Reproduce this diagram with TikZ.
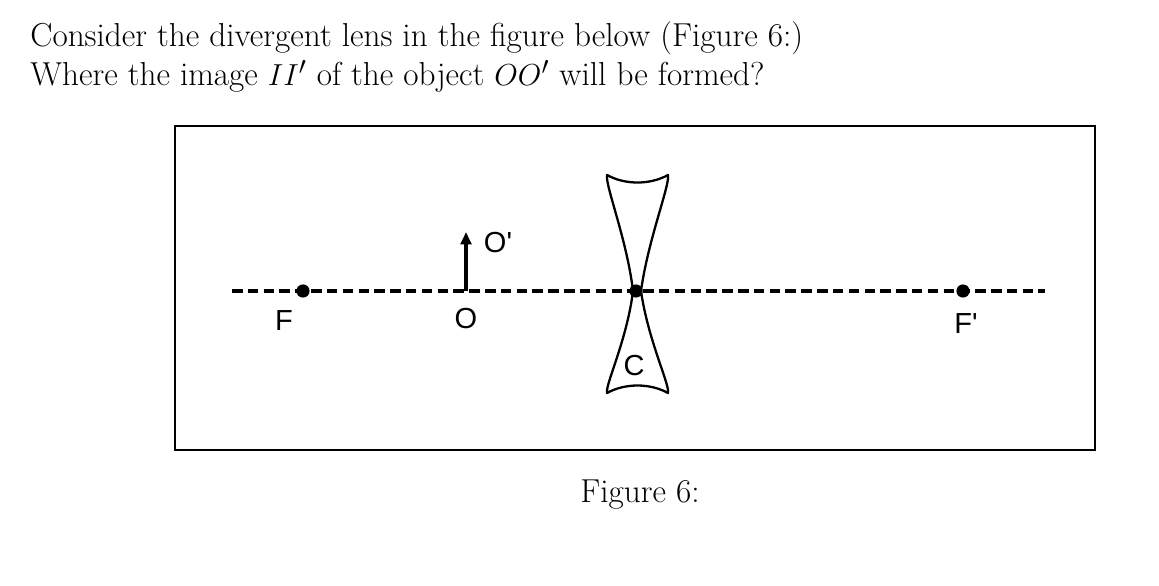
\documentclass[tikz,border=0pt]{standalone}
\usepackage{fontspec}
\setsansfont{Liberation Sans}
\usepackage{textcomp}
\usetikzlibrary{arrows.meta}
\begin{document}
\begin{tikzpicture}[x=0.02cm,y=-0.02cm,
  lbl/.style={font=\sffamily\fontsize{16.5}{18}\selectfont},
  dotpt/.style={circle,fill=black,inner sep=0pt,minimum size=7.5pt}]
\useasboundingbox (0,0) rectangle (1159,585);
\node[anchor=west,align=left,font=\fontsize{18.9}{22}\selectfont,inner sep=0pt] (txt) at (30,57) {Consider the divergent lens in the figure below (Figure 6:)\\Where the image $II'$ of the object $OO'$ will be formed?};
\draw[line width=0.6pt] (175,126) rectangle (1095,450);
\coordinate (a1) at (232,291); \coordinate (a2) at (1045,291);
\draw[line width=2pt,dash pattern=on 6pt off 3pt] (a1) -- (a2);
\node[dotpt] (F) at (303,291) {};
\node[dotpt] (C) at (636,291) {};
\node[dotpt] (Fp) at (963,291) {};
\coordinate (O) at (466,291);
\coordinate (Ot) at (466,232);
\draw[line width=2pt,-{Triangle[length=7pt,width=6pt]}] (O) -- (Ot);
\node[lbl] (lF) at (284,321) {F};
\node[lbl] (lO) at (466,319) {O};
\node[lbl] (lOp) at (498,243) {O\textquotesingle};
\node[lbl] (lFp) at (966,324) {F\textquotesingle};
\node[lbl] (lC) at (634,366) {C};
\draw[line width=1.3pt,line join=round] (607,175) .. controls (625,185) and (650,185) .. (668,175)
  .. controls (670,185) and (648,240) .. (641,291)
  .. controls (648,340) and (670,385) .. (668,393)
  .. controls (650,383) and (625,383) .. (607,393)
  .. controls (605,385) and (627,340) .. (633,291)
  .. controls (627,240) and (605,185) .. (607,175) -- cycle;
\node[font=\fontsize{18.9}{21}\selectfont] (cap) at (640,495) {Figure 6:};
\end{tikzpicture}
\end{document}
